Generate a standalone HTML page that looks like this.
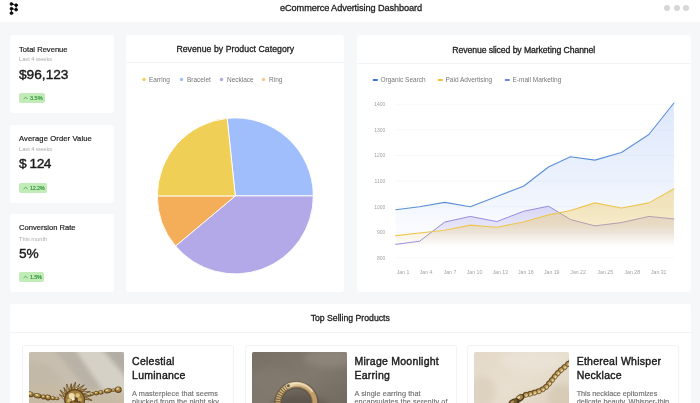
<!DOCTYPE html>
<html><head><meta charset="utf-8">
<style>
*{box-sizing:border-box;margin:0;padding:0}
html,body{width:700px;height:403px;overflow:hidden;background:#f6f7f9;font-family:"Liberation Sans",sans-serif;color:#1c1c1e}
.abs{position:absolute}
.hdr{position:absolute;left:0;top:0;width:700px;height:22.3px;background:#fff}
.hdr .t{position:absolute;left:1px;width:700px;-webkit-text-stroke:0.3px #222;top:2px;text-align:center;font-size:9.2px;line-height:12px;color:#222;letter-spacing:-0.1px}
.dot{position:absolute;top:5.1px;width:5.8px;height:5.8px;border-radius:50%;background:#d7d7d7}
.card{position:absolute;background:#fff;border-radius:3px}
.kt{position:absolute;left:9px;font-size:7.6px;line-height:10px;color:#222;white-space:nowrap;-webkit-text-stroke:0.2px #222}
.ks{position:absolute;left:9px;font-size:5.7px;line-height:7px;color:#aaa;white-space:nowrap}
.kv{position:absolute;left:9px;font-size:13.7px;line-height:16px;color:#1a1a1a;white-space:nowrap;-webkit-text-stroke:0.4px #1a1a1a}
.kb{position:absolute;left:9px;height:10px;margin-top:-0.1px;box-sizing:border-box;border-radius:2px;background:#c1ebb7;color:#3d9a42;font-size:5.5px;line-height:10.2px;padding:0 3.6px 0 11px;overflow:hidden;white-space:nowrap;-webkit-text-stroke:0.2px #3d9a42}
.kb svg{position:absolute;left:3.7px;top:3.1px;width:5.2px}
.ct{position:absolute;left:0;right:0;text-align:center;font-size:8.7px;line-height:10px;color:#222;-webkit-text-stroke:0.3px #222}
.hr{position:absolute;left:0;right:0;height:1px;background:#f2f3f6}
.lg{position:absolute;font-size:6.5px;line-height:8px;color:#777;white-space:nowrap}
.pc{position:absolute;top:344.7px;height:70px;width:211.6px;background:#fff;border:1px solid #f2f3f5;border-radius:3px}
.pimg{position:absolute;left:6px;top:6.5px;width:95px;height:60px;border-radius:1.5px;overflow:hidden}
.pt{position:absolute;left:108.7px;top:8.4px;font-size:10.5px;line-height:14px;letter-spacing:0.25px;color:#1a1a1a;-webkit-text-stroke:0.4px #1a1a1a;white-space:nowrap}
.pd{position:absolute;left:108.7px;top:43.9px;font-size:7.3px;line-height:8.6px;letter-spacing:0.08px;color:#707070;-webkit-text-stroke:0.15px #707070;white-space:nowrap}
</style></head><body>
<div class="hdr">
  <svg class="abs" style="left:0;top:0" width="30" height="20" viewBox="0 0 30 20">
    <g stroke="#0e0b0a" stroke-width="0.8" fill="#0e0b0a" stroke-linecap="round">
      <path d="M11.45 4 L16.15 5.2 L16.15 9.7 L11.45 8.7 L11.45 13.15" fill="none"/>
      <circle cx="11.45" cy="4" r="1.4"/><circle cx="16.15" cy="5.2" r="1.4"/><circle cx="11.45" cy="8.7" r="1.4"/><circle cx="16.15" cy="9.7" r="1.4"/><circle cx="11.45" cy="13.15" r="1.4"/>
    </g>
  </svg>
  <div class="t">eCommerce Advertising Dashboard</div>
  <div class="dot" style="left:664.3px"></div><div class="dot" style="left:673.9px"></div><div class="dot" style="left:683.4px"></div>
</div>

<div class="card" style="left:10px;top:35px;width:103.5px;height:78px">
  <div class="kt" style="top:9.5px">Total Revenue</div>
  <div class="ks" style="top:21.3px">Last 4 weeks</div>
  <div class="kv" style="top:31.5px">$96,123</div>
  <div class="kb" style="top:58.3px;width:26.1px"><svg width="6" height="4" viewBox="0 0 6 4"><path d="M0.7 3.3 L3 1 L5.3 3.3" fill="none" stroke="#3d9a42" stroke-width="0.9"/></svg>3.5%</div>
</div>
<div class="card" style="left:10px;top:124.5px;width:103.5px;height:78px">
  <div class="kt" style="top:9.5px;letter-spacing:0.12px">Average Order Value</div>
  <div class="ks" style="top:21.3px">Last 4 weeks</div>
  <div class="kv" style="top:31.5px;letter-spacing:-0.45px">$ 124</div>
  <div class="kb" style="top:58.5px;width:27.8px;letter-spacing:-0.25px"><svg width="6" height="4" viewBox="0 0 6 4"><path d="M0.7 3.3 L3 1 L5.3 3.3" fill="none" stroke="#3d9a42" stroke-width="0.9"/></svg>12.2%</div>
</div>
<div class="card" style="left:10px;top:214px;width:103.5px;height:78px">
  <div class="kt" style="top:9.1px">Conversion Rate</div>
  <div class="ks" style="top:21.7px">This month</div>
  <div class="kv" style="top:32px">5%</div>
  <div class="kb" style="top:58px;width:24.9px;letter-spacing:-0.2px"><svg width="6" height="4" viewBox="0 0 6 4"><path d="M0.7 3.3 L3 1 L5.3 3.3" fill="none" stroke="#3d9a42" stroke-width="0.9"/></svg>1.5%</div>
</div>

<div class="card" style="left:125.5px;top:35px;width:218.7px;height:257px">
  <div class="ct" style="top:9.1px;left:0.8px;letter-spacing:0.05px">Revenue by Product Category</div>
  <div class="hr" style="top:27.4px"></div>
  <svg class="abs" style="left:-0.5px;top:0" width="220" height="257" viewBox="0 0 220 257">
    <path d="M110.3 160.9 L102.15 83.33 A78 78 0 0 1 188.30 160.90 Z" fill="#9fbefb" stroke="#fff" stroke-width="0.9" stroke-linejoin="round"/>
<path d="M110.3 160.9 L188.30 160.90 A78 78 0 0 1 50.55 211.04 Z" fill="#b4a9e8" stroke="#fff" stroke-width="0.9" stroke-linejoin="round"/>
<path d="M110.3 160.9 L50.55 211.04 A78 78 0 0 1 32.30 160.90 Z" fill="#f4ae59" stroke="#fff" stroke-width="0.9" stroke-linejoin="round"/>
<path d="M110.3 160.9 L32.30 160.90 A78 78 0 0 1 102.15 83.33 Z" fill="#f0cf57" stroke="#fff" stroke-width="0.9" stroke-linejoin="round"/>
    <circle cx="19" cy="44.5" r="1.7" fill="#f0cf57"/>
    <circle cx="56.5" cy="44.5" r="1.7" fill="#9fbefb"/>
    <circle cx="96.5" cy="44.5" r="1.7" fill="#b4a9e8"/>
    <circle cx="138.5" cy="44.5" r="1.7" fill="#f5c98a"/>
  </svg>
  <div class="lg" style="left:23.5px;top:40.7px">Earring</div>
  <div class="lg" style="left:61.5px;top:40.7px">Bracelet</div>
  <div class="lg" style="left:101.5px;top:40.7px">Necklace</div>
  <div class="lg" style="left:143.5px;top:40.7px">Ring</div>
</div>

<div class="card" style="left:357px;top:35px;width:333.5px;height:257px">
  <div class="ct" style="top:9.7px;letter-spacing:-0.1px">Revenue sliced by Marketing Channel</div>
  <div class="hr" style="top:27.5px"></div>
  <svg class="abs" style="left:0;top:0" width="333" height="257" viewBox="0 0 333 257"><defs>
<linearGradient id="gb" gradientUnits="userSpaceOnUse" x1="0" y1="68.0" x2="0" y2="211.0"><stop offset="0" stop-color="#6f9bf0" stop-opacity="0.23"/><stop offset="0.6" stop-color="#6f9bf0" stop-opacity="0.12"/><stop offset="1" stop-color="#6f9bf0" stop-opacity="0"/></linearGradient>
<linearGradient id="gp" gradientUnits="userSpaceOnUse" x1="0" y1="171.2" x2="0" y2="211.0"><stop offset="0" stop-color="#9a8fe0" stop-opacity="0.3"/><stop offset="0.5" stop-color="#9a8fe0" stop-opacity="0.21"/><stop offset="1" stop-color="#9a8fe0" stop-opacity="0"/></linearGradient>
<linearGradient id="gy" gradientUnits="userSpaceOnUse" x1="0" y1="153.8" x2="0" y2="211.0"><stop offset="0" stop-color="#f0c54a" stop-opacity="0.4"/><stop offset="0.62" stop-color="#f0c54a" stop-opacity="0.3"/><stop offset="1" stop-color="#f0c54a" stop-opacity="0"/></linearGradient>
</defs>
<line x1="38" x2="318" y1="222.90" y2="222.90" stroke="#f3f4f6" stroke-width="0.6"/>
<text x="28.3" y="224.70" text-anchor="end" font-size="5" fill="#a3a3a3" font-family="Liberation Sans, sans-serif">800</text>
<line x1="38" x2="318" y1="197.30" y2="197.30" stroke="#f3f4f6" stroke-width="0.6"/>
<text x="28.3" y="199.10" text-anchor="end" font-size="5" fill="#a3a3a3" font-family="Liberation Sans, sans-serif">900</text>
<line x1="38" x2="318" y1="171.70" y2="171.70" stroke="#f3f4f6" stroke-width="0.6"/>
<text x="28.3" y="173.50" text-anchor="end" font-size="5" fill="#a3a3a3" font-family="Liberation Sans, sans-serif">1000</text>
<line x1="38" x2="318" y1="146.10" y2="146.10" stroke="#f3f4f6" stroke-width="0.6"/>
<text x="28.3" y="147.90" text-anchor="end" font-size="5" fill="#a3a3a3" font-family="Liberation Sans, sans-serif">1100</text>
<line x1="38" x2="318" y1="120.50" y2="120.50" stroke="#f3f4f6" stroke-width="0.6"/>
<text x="28.3" y="122.30" text-anchor="end" font-size="5" fill="#a3a3a3" font-family="Liberation Sans, sans-serif">1200</text>
<line x1="38" x2="318" y1="94.90" y2="94.90" stroke="#f3f4f6" stroke-width="0.6"/>
<text x="28.3" y="96.70" text-anchor="end" font-size="5" fill="#a3a3a3" font-family="Liberation Sans, sans-serif">1300</text>
<line x1="38" x2="318" y1="69.30" y2="69.30" stroke="#f3f4f6" stroke-width="0.6"/>
<text x="28.3" y="71.10" text-anchor="end" font-size="5" fill="#a3a3a3" font-family="Liberation Sans, sans-serif">1400</text>
<text x="46.00" y="239" text-anchor="middle" font-size="5.2" fill="#a3a3a3" font-family="Liberation Sans, sans-serif">Jan 1</text>
<text x="69.10" y="239" text-anchor="middle" font-size="5.2" fill="#a3a3a3" font-family="Liberation Sans, sans-serif">Jan 4</text>
<text x="93.00" y="239" text-anchor="middle" font-size="5.2" fill="#a3a3a3" font-family="Liberation Sans, sans-serif">Jan 7</text>
<text x="117.50" y="239" text-anchor="middle" font-size="5.2" fill="#a3a3a3" font-family="Liberation Sans, sans-serif">Jan 10</text>
<text x="143.20" y="239" text-anchor="middle" font-size="5.2" fill="#a3a3a3" font-family="Liberation Sans, sans-serif">Jan 13</text>
<text x="168.80" y="239" text-anchor="middle" font-size="5.2" fill="#a3a3a3" font-family="Liberation Sans, sans-serif">Jan 16</text>
<text x="194.70" y="239" text-anchor="middle" font-size="5.2" fill="#a3a3a3" font-family="Liberation Sans, sans-serif">Jan 19</text>
<text x="221.10" y="239" text-anchor="middle" font-size="5.2" fill="#a3a3a3" font-family="Liberation Sans, sans-serif">Jan 22</text>
<text x="248.30" y="239" text-anchor="middle" font-size="5.2" fill="#a3a3a3" font-family="Liberation Sans, sans-serif">Jan 25</text>
<text x="275.30" y="239" text-anchor="middle" font-size="5.2" fill="#a3a3a3" font-family="Liberation Sans, sans-serif">Jan 28</text>
<text x="301.70" y="239" text-anchor="middle" font-size="5.2" fill="#a3a3a3" font-family="Liberation Sans, sans-serif">Jan 31</text>

<path d="M38.70 174.77 L62.50 171.70 L87.70 167.35 L113.30 171.70 L139.80 161.46 L166.50 151.22 L191.50 132.02 L213.40 121.78 L237.90 125.11 L264.40 117.43 L291.90 99.51 L316.90 68.02 L316.90 222.90 L38.70 222.90 Z" fill="url(#gb)"/><path d="M38.70 174.77 L62.50 171.70 L87.70 167.35 L113.30 171.70 L139.80 161.46 L166.50 151.22 L191.50 132.02 L213.40 121.78 L237.90 125.11 L264.40 117.43 L291.90 99.51 L316.90 68.02" fill="none" stroke="#5b8fd8" stroke-width="1.1" stroke-linejoin="round" stroke-linecap="round"/>
<path d="M38.70 209.33 L62.50 206.26 L87.70 187.06 L113.30 181.43 L139.80 186.55 L166.50 176.31 L191.50 171.19 L213.40 184.50 L237.90 190.90 L264.40 187.57 L291.90 181.43 L316.90 183.99 L316.90 222.90 L38.70 222.90 Z" fill="url(#gp)"/><path d="M38.70 209.33 L62.50 206.26 L87.70 187.06 L113.30 181.43 L139.80 186.55 L166.50 176.31 L191.50 171.19 L213.40 184.50 L237.90 190.90 L264.40 187.57 L291.90 181.43 L316.90 183.99" fill="none" stroke="#988ce0" stroke-width="1.0" stroke-linejoin="round" stroke-linecap="round"/>
<path d="M38.70 200.63 L62.50 198.07 L87.70 195.25 L113.30 190.13 L139.80 192.18 L166.50 187.06 L191.50 179.89 L213.40 175.54 L237.90 167.86 L264.40 172.98 L291.90 167.86 L316.90 153.78 L316.90 222.90 L38.70 222.90 Z" fill="url(#gy)"/><path d="M38.70 200.63 L62.50 198.07 L87.70 195.25 L113.30 190.13 L139.80 192.18 L166.50 187.06 L191.50 179.89 L213.40 175.54 L237.90 167.86 L264.40 172.98 L291.90 167.86 L316.90 153.78" fill="none" stroke="#efc652" stroke-width="1.1" stroke-linejoin="round" stroke-linecap="round"/>
<rect x="15.6" y="44.1" width="5.4" height="2" rx="1" fill="#3b76dc"/>
<rect x="80.6" y="44.1" width="5.4" height="2" rx="1" fill="#f2bf3a"/>
<rect x="147.6" y="44.1" width="5.4" height="2" rx="1" fill="#6a8ae6"/>
</svg>
  <div class="lg" style="left:23.5px;top:41.3px">Organic Search</div>
  <div class="lg" style="left:88.5px;top:41.3px">Paid Advertising</div>
  <div class="lg" style="left:155.5px;top:41.3px">E-mail Marketing</div>
</div>

<div class="card" style="left:10px;top:304.3px;width:680.5px;height:110px">
  <div class="ct" style="top:9.2px">Top Selling Products</div>
  <div class="hr" style="top:27.9px"></div>
</div>
<div class="pc" style="left:22.4px">
  <div class="pimg"><svg width="95" height="60" viewBox="0 0 95 60" style="display:block">
<defs>
<filter id="bl1" x="-20%" y="-20%" width="140%" height="140%"><feGaussianBlur stdDeviation="2"/></filter>
<filter id="bl2" x="-20%" y="-20%" width="140%" height="140%"><feGaussianBlur stdDeviation="3"/></filter>
<filter id="bl0" x="-10%" y="-10%" width="120%" height="120%"><feGaussianBlur stdDeviation="0.5"/></filter>
</defs>
<rect width="95" height="60" fill="#c7beaf"/>
<g filter="url(#bl1)">
<polygon points="22,-6 46,-6 78,36 60,40" fill="#b9b2a6"/>
<polygon points="44,-6 70,-6 100,30 100,52 78,44" fill="#d6d1c7"/>
<polygon points="70,-6 90,-6 100,6 100,28" fill="#b3aea5"/>
<polygon points="90,-6 100,-6 100,6" fill="#c8c4bc"/>
<polygon points="-6,30 40,34 100,40 100,66 -6,66" fill="#c7baa3" opacity="0.85"/>
<polygon points="-6,8 20,14 34,30 -6,34" fill="#c2b8a8" opacity="0.8"/>
</g>
<g filter="url(#bl0)">
<g transform="translate(1.5 42.3) rotate(20)"><ellipse rx="3.20" ry="2.80" fill="#5e4520"/><ellipse cx="-0.16" cy="-0.34" rx="2.37" ry="1.96" fill="#a9853f"/><ellipse cx="-0.64" cy="-0.84" rx="1.15" ry="0.84" fill="#ead9a6"/></g>
<g transform="translate(8.5 43.8) rotate(10)"><ellipse rx="4.20" ry="2.60" fill="#5e4520"/><ellipse cx="-0.21" cy="-0.31" rx="3.11" ry="1.82" fill="#a9853f"/><ellipse cx="-0.84" cy="-0.78" rx="1.51" ry="0.78" fill="#ead9a6"/></g>
<g transform="translate(14.5 45.0) rotate(0)"><ellipse rx="2.60" ry="2.40" fill="#5e4520"/><ellipse cx="-0.13" cy="-0.29" rx="1.92" ry="1.68" fill="#a9853f"/><ellipse cx="-0.52" cy="-0.72" rx="0.94" ry="0.72" fill="#ead9a6"/></g>
<g transform="translate(19.0 45.6) rotate(15)"><ellipse rx="3.20" ry="2.90" fill="#5e4520"/><ellipse cx="-0.16" cy="-0.35" rx="2.37" ry="2.03" fill="#a9853f"/><ellipse cx="-0.64" cy="-0.87" rx="1.15" ry="0.87" fill="#ead9a6"/></g>
<g transform="translate(24.0 46.3) rotate(0)"><ellipse rx="2.60" ry="2.00" fill="#5e4520"/><ellipse cx="-0.13" cy="-0.24" rx="1.92" ry="1.40" fill="#a9853f"/><ellipse cx="-0.52" cy="-0.60" rx="0.94" ry="0.60" fill="#ead9a6"/></g>
<g transform="translate(28.0 46.5) rotate(0)"><ellipse rx="2.40" ry="1.80" fill="#5e4520"/><ellipse cx="-0.12" cy="-0.22" rx="1.78" ry="1.26" fill="#a9853f"/><ellipse cx="-0.48" cy="-0.54" rx="0.86" ry="0.54" fill="#ead9a6"/></g>
<g transform="translate(63.0 42.0) rotate(-10)"><ellipse rx="2.40" ry="1.90" fill="#5e4520"/><ellipse cx="-0.12" cy="-0.23" rx="1.78" ry="1.33" fill="#a9853f"/><ellipse cx="-0.48" cy="-0.57" rx="0.86" ry="0.57" fill="#ead9a6"/></g>
<g transform="translate(67.5 41.2) rotate(-10)"><ellipse rx="2.60" ry="2.20" fill="#5e4520"/><ellipse cx="-0.13" cy="-0.26" rx="1.92" ry="1.54" fill="#a9853f"/><ellipse cx="-0.52" cy="-0.66" rx="0.94" ry="0.66" fill="#ead9a6"/></g>
<g transform="translate(72.0 40.4) rotate(-10)"><ellipse rx="2.60" ry="2.20" fill="#5e4520"/><ellipse cx="-0.13" cy="-0.26" rx="1.92" ry="1.54" fill="#a9853f"/><ellipse cx="-0.52" cy="-0.66" rx="0.94" ry="0.66" fill="#ead9a6"/></g>
<g transform="translate(79.0 38.8) rotate(-10)"><ellipse rx="4.20" ry="2.50" fill="#5e4520"/><ellipse cx="-0.21" cy="-0.30" rx="3.11" ry="1.75" fill="#a9853f"/><ellipse cx="-0.84" cy="-0.75" rx="1.51" ry="0.75" fill="#ead9a6"/></g>
<g transform="translate(84.5 38.2) rotate(-5)"><ellipse rx="2.20" ry="1.60" fill="#5e4520"/><ellipse cx="-0.11" cy="-0.19" rx="1.63" ry="1.12" fill="#a9853f"/><ellipse cx="-0.44" cy="-0.48" rx="0.79" ry="0.48" fill="#ead9a6"/></g>
<g transform="translate(89.3 37.8) rotate(0)"><ellipse rx="3.40" ry="3.30" fill="#5e4520"/><ellipse cx="-0.17" cy="-0.40" rx="2.52" ry="2.31" fill="#a9853f"/><ellipse cx="-0.68" cy="-0.99" rx="1.22" ry="0.99" fill="#ead9a6"/></g>
<polygon points="36.3,48.8 36.4,45.6 30.3,42.5" fill="#e3d3a4" stroke="#5e4520" stroke-width="0.8" stroke-linejoin="round"/>
<polygon points="36.3,46.3 37.2,43.2 31.1,38.0" fill="#bf9d58" stroke="#5e4520" stroke-width="0.8" stroke-linejoin="round"/>
<polygon points="36.9,43.9 38.6,41.2 34.9,35.5" fill="#bf9d58" stroke="#5e4520" stroke-width="0.8" stroke-linejoin="round"/>
<polygon points="38.1,41.7 40.5,39.6 37.8,32.0" fill="#e3d3a4" stroke="#5e4520" stroke-width="0.8" stroke-linejoin="round"/>
<polygon points="39.9,40.0 42.7,38.5 42.3,31.7" fill="#bf9d58" stroke="#5e4520" stroke-width="0.8" stroke-linejoin="round"/>
<polygon points="42.0,38.7 45.2,38.0 46.6,30.1" fill="#bf9d58" stroke="#5e4520" stroke-width="0.8" stroke-linejoin="round"/>
<polygon points="44.4,38.1 47.6,38.2 50.7,32.1" fill="#e3d3a4" stroke="#5e4520" stroke-width="0.8" stroke-linejoin="round"/>
<polygon points="46.9,38.1 50.0,39.0 55.2,32.9" fill="#bf9d58" stroke="#5e4520" stroke-width="0.8" stroke-linejoin="round"/>
<polygon points="49.3,38.7 52.0,40.4 57.7,36.7" fill="#bf9d58" stroke="#5e4520" stroke-width="0.8" stroke-linejoin="round"/>
<polygon points="51.5,39.9 53.6,42.3 61.2,39.6" fill="#e3d3a4" stroke="#5e4520" stroke-width="0.8" stroke-linejoin="round"/>
<polygon points="53.2,41.7 54.7,44.5 61.5,44.1" fill="#bf9d58" stroke="#5e4520" stroke-width="0.8" stroke-linejoin="round"/>
<polygon points="54.5,43.8 55.2,47.0 63.1,48.4" fill="#bf9d58" stroke="#5e4520" stroke-width="0.8" stroke-linejoin="round"/>
<circle cx="45.7" cy="47.5" r="10.6" fill="#5e4520"/>
<circle cx="45.7" cy="47.5" r="9.2" fill="#a17d3c"/>
<circle cx="42.7" cy="44.0" r="3" fill="#ecdcae"/>
<circle cx="48.7" cy="43.5" r="2.2" fill="#d9c17f"/>
<circle cx="40.2" cy="48.5" r="2" fill="#d0b46e"/>
<circle cx="46.7" cy="48.0" r="2.6" fill="#5e4520"/>
<circle cx="50.7" cy="47.5" r="2" fill="#c8aa62"/>
<circle cx="44.2" cy="47.0" r="1.6" fill="#f5ecd2"/>
<circle cx="50.2" cy="50.5" r="1.6" fill="#6b4f22"/>
<circle cx="42.2" cy="50.5" r="1.5" fill="#6b4f22"/>
</g></svg></div>
  <div class="pt">Celestial<br>Luminance</div>
  <div class="pd">A masterpiece that seems<br>plucked from the night sky,</div>
</div>
<div class="pc" style="left:244.8px;width:212px">
  <div class="pimg"><svg width="95" height="60" viewBox="0 0 95 60" style="display:block">
<defs>
<linearGradient id="i2bg" x1="0" y1="0" x2="1" y2="1"><stop offset="0" stop-color="#777065"/><stop offset="0.5" stop-color="#81796e"/><stop offset="1" stop-color="#6e675d"/></linearGradient>
<linearGradient id="ring" x1="0" y1="0" x2="1" y2="0"><stop offset="0" stop-color="#c9a876"/><stop offset="0.3" stop-color="#ead6b0"/><stop offset="0.6" stop-color="#dbbd8e"/><stop offset="1" stop-color="#c09c68"/></linearGradient>
</defs>
<rect width="95" height="60" fill="url(#i2bg)"/>
<g filter="url(#bl2)">
<ellipse cx="78" cy="6" rx="26" ry="9" fill="#90887c" opacity="0.8"/>
<ellipse cx="18" cy="28" rx="20" ry="12" fill="#827b70" opacity="0.7"/>
<ellipse cx="48" cy="54" rx="30" ry="10" fill="#5f594f" opacity="0.7"/>
</g>
<g filter="url(#bl0)">
<circle cx="44.4" cy="50.7" r="15.4" fill="#4a443c" opacity="0.35"/>
<circle cx="44.4" cy="51.1" r="18.4" fill="none" stroke="#4f422c" stroke-width="7.6" opacity="0.5"/>
<circle cx="44.4" cy="50.7" r="18.2" fill="none" stroke="url(#ring)" stroke-width="5.4"/>
<circle cx="44.4" cy="50.7" r="15.8" fill="none" stroke="#7a5f3a" stroke-width="1.4" opacity="0.65"/>
<path d="M26.2 52.7 A18.2 18.2 0 0 1 35.3 34.900000000000006" fill="none" stroke="#5e4822" stroke-width="5.4" stroke-dasharray="1 1.4" opacity="0.75"/>
<path d="M39 32.1 A19.4 19.4 0 0 1 60.5 39.7" fill="none" stroke="#f4e6cc" stroke-width="1.6" opacity="0.8"/>
<circle cx="36.4" cy="33.7" r="1.5" fill="#4a3a20" opacity="0.8"/>
</g></svg></div>
  <div class="pt">Mirage Moonlight<br>Earring</div>
  <div class="pd">A single earring that<br>encapsulates the serenity of</div>
</div>
<div class="pc" style="left:467px">
  <div class="pimg"><svg width="95" height="60" viewBox="0 0 95 60" style="display:block">
<defs>
<linearGradient id="i3bg" x1="0" y1="0" x2="1" y2="1"><stop offset="0" stop-color="#e4d9c8"/><stop offset="0.5" stop-color="#e8dfd0"/><stop offset="1" stop-color="#dcd0bc"/></linearGradient>
</defs>
<rect width="95" height="60" fill="url(#i3bg)"/>
<g filter="url(#bl2)">
<ellipse cx="55" cy="8" rx="30" ry="10" fill="#ebe4d6" opacity="0.8"/>
<ellipse cx="8" cy="40" rx="14" ry="16" fill="#dbd0bc" opacity="0.8"/>
<ellipse cx="88" cy="46" rx="14" ry="14" fill="#d5c9b3" opacity="0.8"/>
</g>
<g filter="url(#bl0)">
<g transform="translate(97.5 9.0) rotate(139.39870535499554)"><ellipse rx="3.10" ry="2.90" fill="#6a5026"/><ellipse cx="-0.16" cy="-0.35" rx="2.29" ry="2.03" fill="#bb9a5c"/><ellipse cx="-0.62" cy="-0.87" rx="1.12" ry="0.87" fill="#e8d9ac"/></g>
<g transform="translate(94.0 12.0) rotate(139.14462374110434)"><ellipse rx="3.10" ry="2.90" fill="#6a5026"/><ellipse cx="-0.16" cy="-0.35" rx="2.29" ry="2.03" fill="#bb9a5c"/><ellipse cx="-0.62" cy="-0.87" rx="1.12" ry="0.87" fill="#e8d9ac"/></g>
<g transform="translate(90.3 15.2) rotate(139.39870535499554)"><ellipse rx="3.10" ry="2.90" fill="#6a5026"/><ellipse cx="-0.16" cy="-0.35" rx="2.29" ry="2.03" fill="#bb9a5c"/><ellipse cx="-0.62" cy="-0.87" rx="1.12" ry="0.87" fill="#e8d9ac"/></g>
<g transform="translate(86.8 18.2) rotate(136.78991060824603)"><ellipse rx="3.10" ry="2.90" fill="#6a5026"/><ellipse cx="-0.16" cy="-0.35" rx="2.29" ry="2.03" fill="#bb9a5c"/><ellipse cx="-0.62" cy="-0.87" rx="1.12" ry="0.87" fill="#e8d9ac"/></g>
<g transform="translate(83.5 21.3) rotate(130.6012946450045)"><ellipse rx="3.10" ry="2.90" fill="#6a5026"/><ellipse cx="-0.16" cy="-0.35" rx="2.29" ry="2.03" fill="#bb9a5c"/><ellipse cx="-0.62" cy="-0.87" rx="1.12" ry="0.87" fill="#e8d9ac"/></g>
<g transform="translate(80.5 24.8) rotate(128.45370921670602)"><ellipse rx="3.10" ry="2.90" fill="#6a5026"/><ellipse cx="-0.16" cy="-0.35" rx="2.29" ry="2.03" fill="#bb9a5c"/><ellipse cx="-0.62" cy="-0.87" rx="1.12" ry="0.87" fill="#e8d9ac"/></g>
<g transform="translate(77.8 28.2) rotate(130.31410016049728)"><ellipse rx="3.10" ry="2.90" fill="#6a5026"/><ellipse cx="-0.16" cy="-0.35" rx="2.29" ry="2.03" fill="#bb9a5c"/><ellipse cx="-0.62" cy="-0.87" rx="1.12" ry="0.87" fill="#e8d9ac"/></g>
<g transform="translate(75.0 31.5) rotate(132.27368900609378)"><ellipse rx="3.10" ry="2.90" fill="#6a5026"/><ellipse cx="-0.16" cy="-0.35" rx="2.29" ry="2.03" fill="#bb9a5c"/><ellipse cx="-0.62" cy="-0.87" rx="1.12" ry="0.87" fill="#e8d9ac"/></g>
<g transform="translate(72.0 34.8) rotate(144.46232220802563)"><ellipse rx="3.10" ry="2.90" fill="#6a5026"/><ellipse cx="-0.16" cy="-0.35" rx="2.29" ry="2.03" fill="#bb9a5c"/><ellipse cx="-0.62" cy="-0.87" rx="1.12" ry="0.87" fill="#e8d9ac"/></g>
<g transform="translate(68.5 37.3) rotate(154.59228189105147)"><ellipse rx="3.10" ry="2.90" fill="#6a5026"/><ellipse cx="-0.16" cy="-0.35" rx="2.29" ry="2.03" fill="#bb9a5c"/><ellipse cx="-0.62" cy="-0.87" rx="1.12" ry="0.87" fill="#e8d9ac"/></g>
<g transform="translate(64.5 39.2) rotate(161.565051177078)"><ellipse rx="3.10" ry="2.90" fill="#6a5026"/><ellipse cx="-0.16" cy="-0.35" rx="2.29" ry="2.03" fill="#bb9a5c"/><ellipse cx="-0.62" cy="-0.87" rx="1.12" ry="0.87" fill="#e8d9ac"/></g>
<g transform="translate(60.3 40.6) rotate(164.40718906073369)"><ellipse rx="3.10" ry="2.90" fill="#6a5026"/><ellipse cx="-0.16" cy="-0.35" rx="2.29" ry="2.03" fill="#bb9a5c"/><ellipse cx="-0.62" cy="-0.87" rx="1.12" ry="0.87" fill="#e8d9ac"/></g>
<g transform="translate(56.0 41.8) rotate(166.6075022462489)"><ellipse rx="3.10" ry="2.90" fill="#6a5026"/><ellipse cx="-0.16" cy="-0.35" rx="2.29" ry="2.03" fill="#bb9a5c"/><ellipse cx="-0.62" cy="-0.87" rx="1.12" ry="0.87" fill="#e8d9ac"/></g>
<g transform="translate(51.8 42.8) rotate(166.6075022462489)"><ellipse rx="3.10" ry="2.90" fill="#6a5026"/><ellipse cx="-0.16" cy="-0.35" rx="2.29" ry="2.03" fill="#bb9a5c"/><ellipse cx="-0.62" cy="-0.87" rx="1.12" ry="0.87" fill="#e8d9ac"/></g>
<g transform="translate(46.0 46.0) rotate(-35)"><ellipse rx="5.00" ry="3.40" fill="#4e3a1a"/><ellipse cx="-0.25" cy="-0.41" rx="3.70" ry="2.38" fill="#a8864a"/><ellipse cx="-1.00" cy="-1.02" rx="1.80" ry="1.02" fill="#efe0b4"/></g>
<g transform="translate(40.0 50.5) rotate(-25)"><ellipse rx="6.00" ry="3.80" fill="#3e2d14"/><ellipse cx="-0.30" cy="-0.46" rx="4.44" ry="2.66" fill="#6e5428"/><ellipse cx="-1.20" cy="-1.14" rx="2.16" ry="1.14" fill="#b09458"/></g>
</g></svg></div>
  <div class="pt">Ethereal Whisper<br>Necklace</div>
  <div class="pd" style="letter-spacing:-0.04px">This necklace epitomizes<br>delicate beauty. Whisper-thin</div>
</div>
</body></html>
